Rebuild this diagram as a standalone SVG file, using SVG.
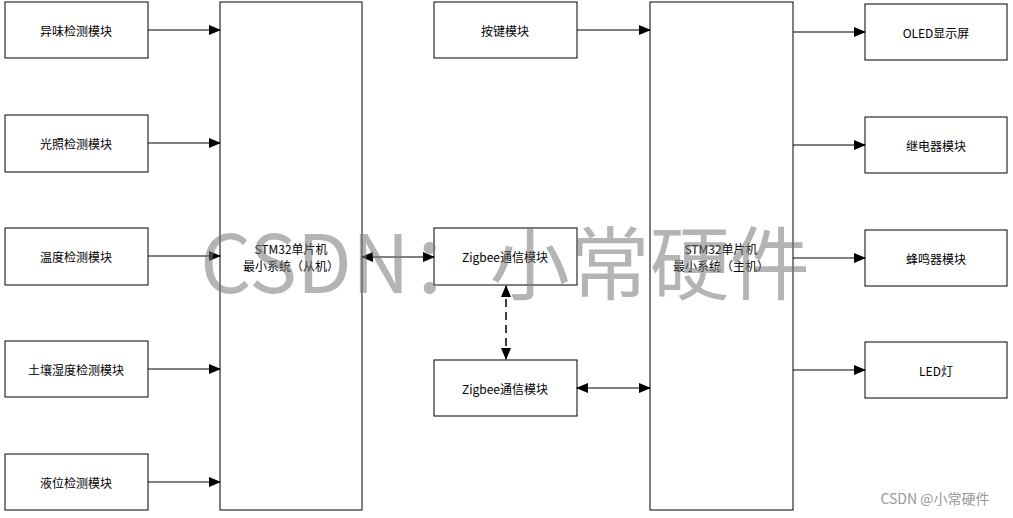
<svg xmlns="http://www.w3.org/2000/svg" width="1013" height="518" viewBox="0 0 1013 518">
<defs>
<marker id="a" markerWidth="12" markerHeight="10" refX="11" refY="5" orient="auto-start-reverse" markerUnits="userSpaceOnUse"><path d="M0,0 L12,5 L0,10 z" fill="#000"/></marker>
<style>
rect{fill:#fff;stroke:#000;stroke-width:1}
text{font-family:"Noto Sans CJK SC","Noto Sans",sans-serif;font-size:12px;text-anchor:middle;dominant-baseline:central;fill:#000}
.c line{stroke:#000;stroke-width:1}
</style>
</defs>
<rect x="0" y="0" width="1013" height="518" style="stroke:none"/>
<g id="m1"><rect x="5" y="2" width="143" height="56"/><text x="76" y="30">异味检测模块</text></g>
<g id="m2"><rect x="5" y="115" width="143" height="57"/><text x="76" y="143">光照检测模块</text></g>
<g id="m3"><rect x="5" y="228" width="143" height="57"/><text x="76" y="256">温度检测模块</text></g>
<g id="m4"><rect x="5" y="341" width="143" height="56"/><text x="76" y="369">土壤湿度检测模块</text></g>
<g id="m5"><rect x="5" y="454" width="143" height="56"/><text x="76" y="482">液位检测模块</text></g>
<g id="slave"><rect x="220" y="2" width="142" height="508"/><text x="291" y="248">STM32单片机</text><text x="291" y="265">最小系统（从机）</text></g>
<g id="key"><rect x="434" y="2" width="143" height="56"/><text x="505" y="30">按键模块</text></g>
<g id="zb1"><rect x="434" y="228" width="143" height="57"/><text x="505" y="256">Zigbee通信模块</text></g>
<g id="zb2"><rect x="434" y="360" width="143" height="56"/><text x="505" y="388">Zigbee通信模块</text></g>
<g id="master"><rect x="650" y="2" width="143" height="508"/><text x="721" y="248">STM32单片机</text><text x="721" y="265">最小系统（主机）</text></g>
<g id="oled"><rect x="865" y="4" width="142" height="56"/><text x="936" y="32">OLED显示屏</text></g>
<g id="relay"><rect x="865" y="117" width="142" height="56"/><text x="936" y="145">继电器模块</text></g>
<g id="buzz"><rect x="865" y="230" width="142" height="56"/><text x="936" y="258">蜂鸣器模块</text></g>
<g id="led"><rect x="865" y="342" width="142" height="56"/><text x="936" y="370">LED灯</text></g>
<g class="c" id="connectors">
<line x1="148" y1="30" x2="220" y2="30" marker-end="url(#a)"/>
<line x1="148" y1="143" x2="220" y2="143" marker-end="url(#a)"/>
<line x1="148" y1="256" x2="220" y2="256" marker-end="url(#a)"/>
<line x1="148" y1="369" x2="220" y2="369" marker-end="url(#a)"/>
<line x1="148" y1="482" x2="220" y2="482" marker-end="url(#a)"/>
<line x1="362" y1="257" x2="434" y2="257" marker-start="url(#a)" marker-end="url(#a)"/>
<line x1="577" y1="30" x2="650" y2="30" marker-end="url(#a)"/>
<line x1="577" y1="388" x2="650" y2="388" marker-start="url(#a)" marker-end="url(#a)"/>
<line x1="506" y1="286" x2="506" y2="359" stroke-dasharray="8,5" style="stroke-width:1.5" marker-start="url(#a)" marker-end="url(#a)"/>
<line x1="793" y1="32" x2="865" y2="32" marker-end="url(#a)"/>
<line x1="793" y1="145" x2="865" y2="145" marker-end="url(#a)"/>
<line x1="793" y1="258" x2="865" y2="258" marker-end="url(#a)"/>
<line x1="793" y1="370" x2="865" y2="370" marker-end="url(#a)"/>
</g>
<text x="505" y="258" style="font-size:80px;fill:#777;opacity:0.55;font-family:'Noto Sans CJK SC',sans-serif">CSDN：小常硬件</text>
<text x="935" y="498" style="font-size:14px;fill:#999">CSDN @小常硬件</text>
</svg>
